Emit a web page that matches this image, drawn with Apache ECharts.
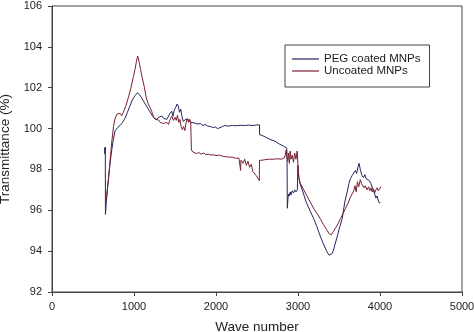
<!DOCTYPE html>
<html><head><meta charset="utf-8">
<script src="https://cdn.jsdelivr.net/npm/echarts@6/dist/echarts.min.js"></script>
<style>html,body{margin:0;padding:0;background:#fff}#c{width:474px;height:332px}</style>
</head><body><div id="c"></div>
<script>
const seriesNames = ['PEG coated MNPs', 'Uncoated MNPs'];
const xTicks = [0, 1000, 2000, 3000, 4000, 5000];
const yTicks = [92, 94, 96, 98, 100, 102, 104, 106];

const pegX = [640,646,650,652,662,680,700,720,745,770,800,830,860,890,920,950,980,1010,1040,1070,1100,1130,1160,1190,1220,1250,1280,1300,1320,1340,1360,1380,1400,1420,1440,1460,1475,1490,1510,1525,1540,1555,1570,1585,1600,1615,1630,1650,1670,1690,1710,1730,1750,1780,1810,1840,1870,1900,1930,1960,1990,2020,2050,2080,2110,2150,2200,2250,2300,2350,2400,2450,2500,2530,2532,2570,2620,2670,2720,2770,2820,2862,2866,2870,2878,2886,2895,2905,2915,2930,2945,2960,2975,2992,2998,3010,3025,3060,3100,3150,3190,3230,3270,3310,3350,3380,3400,3420,3450,3480,3510,3540,3570,3600,3620,3640,3660,3680,3700,3715,3730,3745,3760,3780,3800,3815,3830,3850,3870,3890,3905,3920,3935,3950,3965,3980,3995,4000];
const pegY = [99.05,98.75,99.1,95.8,96.4,97.2,98.0,98.7,99.4,99.9,100.05,100.15,100.3,100.5,100.8,101.1,101.4,101.6,101.75,101.65,101.45,101.25,101.05,100.85,100.65,100.5,100.45,100.55,100.5,100.62,100.5,100.58,100.45,100.5,100.75,100.85,100.6,100.9,101.05,101.2,101.1,100.8,100.95,100.6,100.35,100.3,100.45,100.38,100.42,100.3,100.38,100.28,100.32,100.22,100.25,100.15,100.2,100.12,100.1,100.05,100.08,100.0,100.05,100.1,100.15,100.12,100.15,100.14,100.16,100.15,100.17,100.15,100.18,100.18,99.7,99.65,99.55,99.45,99.38,99.25,99.15,99.05,98.8,96.1,96.6,96.8,96.7,96.9,96.75,96.95,96.85,97.0,96.9,97.0,98.2,97.6,97.3,96.9,96.4,95.95,95.6,95.2,94.75,94.35,94.0,93.8,93.72,93.9,94.3,94.75,95.2,95.6,96.4,96.9,97.3,97.55,97.7,97.65,97.95,97.8,98.1,98.3,98.0,97.7,97.6,97.75,97.55,97.6,97.45,97.3,97.25,96.95,96.8,96.6,96.7,96.45,96.35,96.4];

const uncX = [660,672,690,710,730,750,770,790,810,830,850,870,900,930,960,990,1015,1030,1045,1060,1080,1100,1125,1150,1175,1200,1220,1240,1260,1280,1300,1320,1340,1360,1380,1400,1420,1440,1460,1480,1500,1515,1530,1545,1560,1575,1590,1605,1620,1635,1650,1665,1680,1692,1700,1720,1740,1760,1790,1820,1850,1880,1910,1940,1970,2000,2040,2080,2120,2160,2200,2240,2280,2298,2300,2304,2330,2350,2370,2390,2410,2430,2450,2470,2490,2505,2515,2528,2531,2560,2600,2650,2700,2750,2800,2830,2845,2855,2865,2875,2885,2895,2905,2915,2930,2945,2960,2975,2990,2998,3010,3030,3070,3110,3150,3190,3230,3270,3310,3350,3380,3405,3430,3460,3490,3520,3550,3580,3610,3640,3660,3680,3695,3710,3725,3740,3760,3775,3790,3805,3820,3840,3860,3875,3890,3905,3920,3935,3950,3965,3980,3995,4010];
const uncY = [96.5,96.9,97.6,98.5,99.4,100.1,100.5,100.7,100.65,100.75,100.62,100.8,101.1,101.5,101.95,102.5,102.95,103.3,103.55,103.3,102.9,102.5,102.05,101.5,101.2,101.0,100.8,100.55,100.45,100.4,100.42,100.3,100.35,100.25,100.22,100.3,100.2,100.45,100.6,100.4,100.55,100.4,100.65,100.3,100.45,100.1,99.95,100.1,99.9,100.3,100.5,100.3,100.45,100.3,98.95,98.85,98.9,98.78,98.82,98.75,98.8,98.72,98.75,98.7,98.72,98.68,98.7,98.65,98.62,98.6,98.6,98.55,98.55,98.5,97.95,98.45,98.3,98.5,98.2,98.4,98.1,98.25,97.9,97.85,97.7,97.75,97.55,97.45,98.45,98.45,98.48,98.5,98.5,98.52,98.5,98.55,98.7,98.95,98.6,98.4,98.8,98.3,98.9,98.5,98.7,98.35,98.8,98.5,98.9,98.3,97.6,97.3,97.0,96.7,96.4,96.1,95.85,95.6,95.3,95.05,94.85,94.8,94.95,95.15,95.35,95.6,95.85,96.1,96.35,96.65,96.8,96.95,97.2,96.9,97.4,97.15,97.5,97.3,97.35,97.1,97.2,97.0,97.15,96.95,97.1,96.9,97.05,96.85,97.0,97.1,96.95,97.05,97.15];

const pegData = pegX.map((x, i) => [x, pegY[i]]);
const uncData = uncX.map((x, i) => [x, uncY[i]]);

const FONT = 'Liberation Sans, Arial, sans-serif';
const chart = echarts.init(document.getElementById('c'), null, {renderer: 'canvas'});
chart.setOption({
  animation: false,
  backgroundColor: '#fff',
  grid: {left: 52, right: 12, top: 6, bottom: 40, containLabel: false, outerBoundsMode: 'none',
         show: true, borderColor: '#444', borderWidth: 1},
  legend: {
    orient: 'vertical', left: 285, top: 45,
    padding: [8, 9, 10, 7], itemGap: 0, itemWidth: 27, itemHeight: 1.2, icon: 'rect',
    borderColor: '#444', borderWidth: 1,
    textStyle: {fontFamily: FONT, fontSize: 11.5, color: '#222', lineHeight: 12},
    data: seriesNames
  },
  xAxis: {
    type: 'value', min: xTicks[0], max: xTicks[xTicks.length - 1], interval: 1000,
    name: 'Wave number', nameLocation: 'middle', nameGap: 28,
    nameTextStyle: {fontFamily: FONT, fontSize: 13.5, color: '#222'},
    axisLine: {show: true, onZero: false, lineStyle: {color: '#444', width: 1}},
    axisTick: {show: true, inside: false, length: 4, lineStyle: {color: '#444'}},
    axisLabel: {fontFamily: FONT, fontSize: 11, color: '#222', margin: 9, formatter: v => String(v)},
    splitLine: {show: false}
  },
  yAxis: {
    type: 'value', min: yTicks[0], max: yTicks[yTicks.length - 1], interval: 2,
    name: 'Transmittance (%)', nameLocation: 'middle', nameGap: 35, nameRotate: 90,
    nameTextStyle: {fontFamily: FONT, fontSize: 13.5, color: '#222'},
    axisLine: {show: true, onZero: false, lineStyle: {color: '#444', width: 1}},
    axisTick: {show: true, inside: false, length: 4, lineStyle: {color: '#444'}},
    axisLabel: {fontFamily: FONT, fontSize: 11, color: '#222', margin: 10, formatter: v => String(v)},
    splitLine: {show: false}
  },
  series: [
    {name: seriesNames[0], type: 'line', data: pegData, symbol: 'none', showSymbol: false,
     lineStyle: {color: '#262660', width: 1}, itemStyle: {color: '#262660'}},
    {name: seriesNames[1], type: 'line', data: uncData, symbol: 'none', showSymbol: false,
     lineStyle: {color: '#7a2030', width: 1}, itemStyle: {color: '#7a2030'}}
  ]
});
</script>
</body></html>
